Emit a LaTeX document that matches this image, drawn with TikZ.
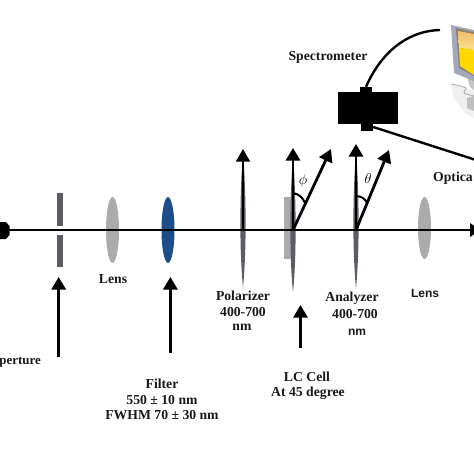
\documentclass[tikz,border=0pt]{standalone}
\usepackage{fontspec}
\setmainfont{Liberation Serif}
\newfontfamily\lsans{Liberation Sans}
\usetikzlibrary{arrows.meta,shapes.geometric}
\definecolor{filterblue}{HTML}{1D4E89}
\definecolor{lensgray}{HTML}{ABABAB}
\definecolor{spindle}{HTML}{5A5D66}
\definecolor{bezel}{HTML}{A3A8BC}
\definecolor{bezelin}{HTML}{8F8068}
\definecolor{screentop}{HTML}{F2BE6E}
\definecolor{screenmid}{HTML}{FBE08A}
\definecolor{screenlow}{HTML}{FFD900}
\tikzset{
 x=1pt,y=-1pt,
 lab/.style={font=\bfseries\fontsize{13.7}{15.6}\selectfont,align=center,text=black!90,inner sep=0},
 head/.style={-{Triangle[length=12.5pt,width=14pt]}},
 ray/.style={line width=2.8pt,black,head},
 cable/.style={line width=2.4pt,black},
 anglearc/.style={line width=2pt,black},
 lens/.style={inner sep=0,minimum width=13pt,minimum height=66pt,ellipse},
 blk/.style={fill=black,inner sep=0},
}
\begin{document}
\begin{tikzpicture}
\useasboundingbox (0,0) rectangle (474,474);
% monitor
\fill[gray!12] (450,84) -- (474,90) -- (474,118) -- (466,114) -- (454,98) -- cycle;
\fill[gray!45] (466,73) -- (474,75) -- (474,90) -- (470,87) -- cycle;
\draw[gray!60,line width=1pt] (452,84) -- (464,87) .. controls (470,89) and (460,92) .. (466,94) -- (474,96);
\fill[gray!50] (467,98) -- (474,96) -- (474,111) -- (467,108) -- cycle;
\fill[bezel] (451,25) -- (474,30) -- (474,81) -- (454,73) -- cycle;
\fill[bezelin] (456,28) -- (474,32) -- (474,76) -- (459,68) -- cycle;
\shade[top color=screentop,bottom color=screenmid] (458,31) -- (474,34) -- (474,50) -- (459,48) -- cycle;
\fill[screenlow] (459,48) -- (474,50) -- (474,75) -- (460,66) -- cycle;
% spectrometer
\node[blk,minimum width=60pt,minimum height=32pt] (spec) at (368,108) {};
\node[blk,minimum width=12pt,minimum height=6pt] (spectop) at (366,90) {};
\node[blk,minimum width=12pt,minimum height=7pt] (specbot) at (367,127) {};
\coordinate (pc) at (440,30);
\coordinate (fibre) at (476,160);
\draw[cable] (spectop.north) .. controls (380,55) and (405,31) .. (pc);
\draw[cable] (specbot.east) -- (fibre);
% optical elements
\node[lens,fill=lensgray] (l1) at (112.5,230) {};
\node[lens,fill=filterblue] (filt) at (168,230) {};
\fill[spindle] (57,193) rectangle (63,226);
\fill[spindle] (57,235) rectangle (63,267);
\node[lens,fill=lensgray,minimum height=62pt] (l2) at (424.5,228) {};
\fill[lensgray] (284,197) rectangle (293,259);
\fill[spindle] (243,150) .. controls (239.5,200) and (239.5,250) .. (243,288) .. controls (246.5,250) and (246.5,200) .. (243,150) -- cycle;
\fill[spindle] (293,155) .. controls (289.5,200) and (289.5,260) .. (293,292) .. controls (296.5,260) and (296.5,200) .. (293,155) -- cycle;
\fill[spindle] (356,150) .. controls (352.5,200) and (352.5,250) .. (356,289) .. controls (359.5,250) and (359.5,200) .. (356,150) -- cycle;
% source and optical axis
\fill (0,222) -- (6,222) -- (9.5,226) -- (9.5,235) -- (6,239) -- (0,239) -- cycle;
\coordinate (src) at (4,230);
\coordinate (end) at (471,230);
\draw[line width=2.8pt] (src) -- (end);
\fill (470,223) -- (480,230) -- (470,237) -- cycle;
% polarisation arrows
\coordinate (p) at (243,230); \coordinate (c) at (293,230); \coordinate (a) at (356,230);
\draw[line width=1.2pt,black,head] (p) -- (243,149);
\draw[ray] (c) -- (293,148);
\draw[ray] (a) -- (356,144);
\draw[ray] (c) -- (331,149);
\draw[ray] (a) -- (389,150);
\draw[anglearc] (293,193) to[bend left=28] (305,203);
\draw[anglearc] (356,196) to[bend left=28] (367,202.5);
\node[inner sep=0,font=\fontsize{14}{16}\selectfont] (phi) at (303,181) {$\phi$};
\node[inner sep=0,font=\fontsize{14}{16}\selectfont] (th) at (368,178) {$\theta$};
% pointer arrows
\coordinate (q1) at (58.7,357); \coordinate (q1t) at (58.7,277);
\coordinate (q2) at (170.4,353); \coordinate (q2t) at (170.4,277);
\coordinate (q3) at (300.5,348); \coordinate (q3t) at (300.5,305);
\draw[ray] (q1) -- (q1t);
\draw[ray] (q2) -- (q2t);
\draw[ray] (q3) -- (q3t);
% labels
\node[lab] (t1) at (328,57) {Spectrometer};
\node[lab,anchor=west] (t2) at (433,178) {Optica};
\node[lab] (t3) at (113,279) {Lens};
\node[lab,anchor=east,font=\bfseries\fontsize{12.9}{15}\selectfont] (t4) at (41,362) {perture};
\node[lab] (t5a) at (162,384) {Filter};
\node[lab] (t5b) at (162,400) {550 ± 10 nm};
\node[lab] (t5c) at (162,415) {FWHM 70 ± 30 nm};
\node[lab] (t6a) at (243,296) {Polarizer};
\node[lab] (t6b) at (243,312) {400-700};
\node[lab] (t6c) at (242,327) {nm};
\node[lab] (t7a) at (307,377) {LC Cell};
\node[lab] (t7b) at (308,393) {At 45 degree};
\node[lab] (t8a) at (352,298) {Analyzer};
\node[lab] (t8b) at (355,314) {400-700};
\node[lab,font=\lsans\bfseries\fontsize{12}{14}\selectfont] (t8c) at (357,332) {nm};
\node[lab,font=\lsans\bfseries\fontsize{12}{14}\selectfont] (t9) at (425,293) {Lens};
\end{tikzpicture}
\end{document}
